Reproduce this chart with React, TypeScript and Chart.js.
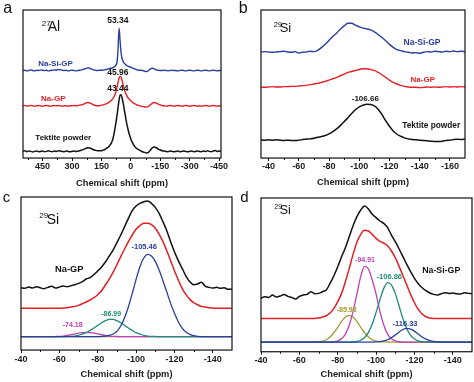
import React, { useEffect, useRef } from "react";
import { Chart, registerables } from "chart.js";

Chart.register(...registerables);

const FONT = '"Liberation Sans", Arial, Helvetica, sans-serif';
const NAVY = "#283f9b";
const RED = "#e41f26";
const TEAL = "#1f8a78";
const MAGENTA = "#bf3fb8";
const OLIVE = "#a09a2c";
const BLACK = "#111111";

// ---------- Panel a : 27Al ----------
const A_PPM = [550,540,530,520,510,500,490,480,470,460,
  450,440,430,420,410,400,390,380,370,360,
  350,340,330,320,310,300,290,280,270,260,
  250,240,230,220,210,200,190,180,170,160,
  150,145,140,135,130,125,120,115,110,105,
  100,95,90,85,80,75,70,65,60,55,
  50,45,40,35,30,25,20,15,10,5,
  0,-5,-10,-15,-20,-25,-30,-35,-40,
  -50,-60,-70,-80,-90,-100,-110,-120,-130,-140,
  -150,-160,-170,-180,-190,-200,-210,-220,-230,-240,
  -250,-260,-270,-280,-290,-300,-310,-320,-330,-340,
  -350,-360,-370,-380,-390,-400,-410,-420,-430,-440,
  -450,-460];
const A_NASIGP = [263,264,262,263,265,263,262,264,263,265,
  264,263,264,262,263,264,265,264,266,265,
  264,263,264,262,263,264,263,262,263,264,
  265,267,269,271,270,267,265,264,263,264,
  264,264,265,265,266,266,267,268,269,270,
  270,271,272,274,276,280,290,330,390,355,
  318,300,291,286,283,280,278,276,275,274,
  273,272,270,269,268,267,266,265,264,
  264,263,261,260,263,268,270,268,265,264,
  263,263,264,263,262,263,264,263,263,262,
  263,264,263,262,263,264,263,262,263,264,
  263,262,263,264,263,262,263,264,263,262,
  263,263];
const A_NAGP = [157,158,156,157,158,157,156,157,158,157,
  156,157,158,157,156,157,158,157,158,157,
  156,157,157,156,157,157,158,157,158,159,
  160,162,165,167,166,163,160,158,157,157,
  159,159,160,161,162,163,165,166,168,170,
  173,176,180,185,192,202,214,228,240,245,
  244,234,222,211,201,193,187,182,178,175,
  172,169,167,165,163,162,160,159,158,
  156,155,154,153,155,160,165,167,165,162,
  160,158,157,156,157,158,157,156,157,158,
  157,156,157,158,157,156,157,158,157,156,
  157,156,157,158,157,156,157,158,157,156,
  157,156];
const A_TEKTITE = [20,22,19,21,20,18,20,21,19,20,
  21,19,20,22,20,19,21,20,22,21,
  20,19,21,20,19,20,21,20,21,22,
  24,26,29,31,30,28,25,23,22,22,
  22,23,24,25,27,29,31,33,36,40,
  44,51,61,75,92,110,130,153,174,189,
  190,182,168,152,134,117,101,88,76,66,
  57,50,44,39,35,31,29,27,25,
  22,19,17,15,17,24,31,33,31,27,
  24,22,21,20,19,21,20,19,20,21,
  19,20,21,20,19,20,21,19,20,21,
  20,19,21,20,22,20,19,21,23,20,
  21,20];
const A_TICKS = [450, 300, 150, 0, -150, -300, -450];
const A_MINOR = [525, 375, 225, 75, -75, -225, -375];

// ---------- Panel b : 29Si ----------
const B_PPM = [-35,-37.5,-40,-42.5,-45,-47.5,-50,-52.5,-55,-57.5,
  -60,-62.5,-65,-67.5,-70,-72.5,-75,-77.5,-80,-82.5,
  -85,-87.5,-90,-92.5,-95,-97.5,-100,-102.5,-105,-107.5,
  -110,-112.5,-115,-117.5,-120,-122.5,-125,-127.5,-130,-132.5,
  -135,-137.5,-140,-142.5,-145,-147.5,-150,-152.5,-155,-157.5,
  -160,-162.5,-165,-167.5,-170];
const B_NASIGP = [321,322,321,320,321,322,323,321,320,322,
  318,320,321,323,322,326,334,344,356,368,
  378,390,400,408,408,402,397,393,391,388,
  382,374,365,355,344,335,328,325,322,320,
  318,319,317,320,322,321,323,322,321,323,
  322,324,322,323,322];
const B_NAGP = [215,214,215,216,215,215,216,216,217,217,
  218,219,220,222,224,226,229,232,236,240,
  244,249,254,259,262,265,268,270,270,268,
  265,259,252,244,236,229,224,220,217,215,
  214,214,213,214,215,214,215,214,215,216,
  215,216,215,216,215];
const B_TEKTITE = [55,54,55,54,55,54,53,54,53,53,
  54,56,57,58,60,63,65,68,73,80,
  88,98,110,122,135,146,155,160,163,162,
  158,148,132,113,96,82,72,66,61,58,
  56,55,54,53,52,51,50,50,51,53,
  54,56,57,56,57];
const B_TICKS = [-40, -60, -80, -100, -120, -140, -160];
const B_MINOR = [-50, -70, -90, -110, -130, -150];

// ---------- Panels c, d : 29Si deconvolution ----------
const FIT_PPM = [-40,-42,-44,-46,-48,-50,-52,-54,-56,-58,
  -60,-62,-64,-66,-68,-70,-72,-74,-76,-78,
  -80,-82,-84,-86,-88,-90,-92,-94,-96,-98,
  -100,-102,-104,-106,-108,-110,-112,-114,-116,-118,
  -120,-122,-124,-126,-128,-130,-132,-134,-136,-138,
  -140,-142,-144,-146,-148,-150];
const FIT_TICKS = [-40, -60, -80, -100, -120, -140];
const FIT_MINOR = [-50, -70, -90, -110, -130];

const C_EXP = [187,185,189,186,190,187,184,188,191,186,
  189,192,190,193,196,200,205,213,217,226,
  237,249,264,282,300,322,345,370,395,418,
  432,440,445,447,440,428,410,385,358,325,
  295,268,245,222,205,196,198,203,192,188,
  186,188,185,187,182,183];
const C_FIT = [125,125,125,125,125,125,125,125,125,125,
  125,126,127,129,131,134,139,144,150,157,
  166,178,195,213,233,256,280,303,325,345,
  362,373,380,380,376,365,348,325,298,268,
  238,210,185,166,152,142,136,131,129,127,
  126,125,125,125,125,125];
const C_Q4 = [40,40,40,40,40,40,40,40,40,40,
  40,40,40,40,40,40,40,40,40,40,
  40,41,42,44,48,56,72,97,130,170,
  212,250,276,287,282,266,240,208,174,140,
  110,85,66,54,47,43,41,40,40,40,
  40,40,40,40,40,40];
const C_Q3 = [40,40,40,40,40,40,40,40,40,40,
  40,40,41,41,42,44,48,52,59,66,
  74,82,88,92,92,88,82,74,66,59,
  52,48,44,42,41,41,40,40,40,40,
  40,40,40,40,40,40,40,40,40,40,
  40,40,40,40,40,40];
const C_Q2 = [40,40,40,40,40,40,40,40,40,40.5,
  41,42,44,46,48,50.5,52,53,52.5,51,
  48.6,46,44,42,41,40.6,40,40,40,40,
  40,40,40,40,40,40,40,40,40,40,
  40,40,40,40,40,40,40,40,40,40,
  40,40,40,40,40,40];
const C_Q1 = [40,40,40,40,40,40,40,40,40,40,
  40,40,40,40,40,40,40,40,40,40,
  40,40,40,40,40,40,40,40,40,40,
  40,40,40,40,40,40,40,40,40,40,
  40,40,40,40,40,40,40,40,40,40,
  40,40,40,40,40,40];

const D_EXP = [160,165,163,170,164,167,172,166,163,158,
  166,170,172,180,174,175,180,185,205,228,
  255,285,312,345,378,405,425,437,428,412,
  402,392,385,372,350,330,308,285,262,240,
  220,204,192,183,176,172,170,174,177,175,
  176,174,173,177,175,174];
const D_FIT = [100,100,100,100,100,100,100,100,100,100,
  100,100,100,100,100,101,104,108,116,130,
  150,175,210,250,292,328,352,364,362,352,
  340,331,326,318,302,282,256,228,200,172,
  147,127,113,105,101,100,100,100,100,100,
  100,100,100,100,100,100];
const D_Q1 = [29,29,29,29,29,29,29,29,29,29,
  29,29,29,29,29.4,30,32,36,44,57,
  73,91,104,109,104,91,73,57,44,36,
  32,30,29.4,29,29,29,29,29,29,29,
  29,29,29,29,29,29,29,29,29,29,
  29,29,29,29,29,29];
const D_Q2 = [29,29,29,29,29,29,29,29,29,29,
  29,29,29,29,29,29,29,29,29,30,
  32.5,39,53,80,121,173,226,256,248,215,
  173,121,80,53,39,32.5,30,29,29,29,
  29,29,29,29,29,29,29,29,29,29,
  29,29,29,29,29,29];
const D_Q3 = [29,29,29,29,29,29,29,29,29,29,
  29,29,29,29,29,29,29,29,29,29,
  29,29,29,29,29.5,31,34.5,42.5,58,83,
  118,156,190,207,200,175,137,99,69,49,
  38,32.4,30,29.4,29,29,29,29,29,29,
  29,29,29,29,29,29];
const D_Q4 = [29,29,29,29,29,29,29,29,29,29,
  29,29,29,29,29,29,29,29,29,29,
  29,29,29,29,29,29,29,29,29,29,
  29.6,30.4,32.4,36,42,50,59,66.6,70,68,
  61.8,53,44.4,37.6,33.3,30.8,29.7,29,29,29,
  29,29,29,29,29,29];

// ---------- types ----------
type TextItem = {
  kind: "text"; text: string; x: number; y: number; color: string; size: number;
  bold?: boolean; align?: CanvasTextAlign; baseline?: CanvasTextBaseline;
};
type SupItem = {
  kind: "sup"; sup: string; base: string; sx: number; sy: number; bx: number; by: number;
  size: number; supSize: number;
};
interface Series { values: number[]; color: string; width: number }
interface PanelSpec {
  left: number; top: number; x: number[]; series: Series[];
  xMin: number; xMax: number; yMax: number; ticks: number[]; minor: number[];
  pad: { left: number; right: number; top: number; bottom: number };
  tickPad: number; titlePad: number; texts: (TextItem | SupItem)[];
}

const W = 237;
const H = 191;

function makeOverlay(p: PanelSpec) {
  return {
    id: "overlay",
    afterDraw(chart: any) {
      const { ctx, chartArea: ca } = chart;
      const xs = chart.scales.x;
      ctx.save();
      ctx.strokeStyle = BLACK;
      ctx.lineWidth = 1;
      for (const v of p.minor) {
        const px = Math.round(xs.getPixelForValue(v)) + 0.5;
        ctx.beginPath();
        ctx.moveTo(px, ca.bottom);
        ctx.lineTo(px, ca.bottom + 2);
        ctx.stroke();
      }
      ctx.lineWidth = 1.2;
      ctx.strokeRect(ca.left, ca.top, ca.right - ca.left, ca.bottom - ca.top);
      for (const it of p.texts) {
        if (it.kind === "text") {
          ctx.font = `${it.bold ? "bold " : ""}${it.size}px ${FONT}`;
          ctx.fillStyle = it.color;
          ctx.textAlign = it.align || "center";
          ctx.textBaseline = it.baseline || "middle";
          ctx.fillText(it.text, it.x, it.y);
        } else {
          ctx.fillStyle = BLACK;
          ctx.textAlign = "left";
          ctx.textBaseline = "alphabetic";
          ctx.font = `${it.supSize}px ${FONT}`;
          ctx.fillText(it.sup, it.sx, it.sy);
          ctx.font = `${it.size}px ${FONT}`;
          ctx.fillText(it.base, it.bx, it.by);
        }
      }
      ctx.restore();
    },
  };
}

function buildConfig(p: PanelSpec): any {
  return {
    type: "line",
    data: {
      datasets: p.series.map((s) => ({
        data: p.x.map((xv, i) => ({ x: xv, y: s.values[i] })),
        borderColor: s.color,
        borderWidth: s.width,
        pointRadius: 0,
        pointHoverRadius: 0,
        cubicInterpolationMode: "monotone",
        fill: false,
      })),
    },
    options: {
      animation: false,
      responsive: false,
      maintainAspectRatio: false,
      events: [],
      layout: { padding: p.pad },
      plugins: { legend: { display: false }, tooltip: { enabled: false } },
      scales: {
        x: {
          type: "linear",
          reverse: true,
          min: p.xMin,
          max: p.xMax,
          afterBuildTicks: (scale: any) => {
            scale.ticks = p.ticks.map((v) => ({ value: v }));
          },
          ticks: {
            autoSkip: false,
            maxRotation: 0,
            minRotation: 0,
            padding: p.tickPad,
            color: "#1a1a1a",
            font: { family: FONT, size: 9, weight: "bold" },
            callback: (v: any) => String(v),
          },
          grid: {
            display: true,
            drawOnChartArea: false,
            drawTicks: true,
            tickLength: 3,
            tickColor: BLACK,
            tickWidth: 1,
          },
          border: { display: false },
          title: {
            display: true,
            text: "Chemical shift (ppm)",
            color: "#1a1a1a",
            font: { family: FONT, size: 9.3, weight: "bold" },
            padding: { top: p.titlePad, bottom: 0 },
          },
        },
        y: { display: false, min: 0, max: p.yMax },
      },
    },
    plugins: [makeOverlay(p)],
  };
}

const PANELS: PanelSpec[] = [
  {
    left: 0, top: 0, x: A_PPM, xMin: -460, xMax: 550, yMax: 445,
    ticks: A_TICKS, minor: A_MINOR,
    pad: { left: 23, right: 16, top: 10, bottom: 2.4 }, tickPad: 0, titlePad: 5.6,
    series: [
      { values: A_NASIGP, color: NAVY, width: 1.4 },
      { values: A_NAGP, color: RED, width: 1.4 },
      { values: A_TEKTITE, color: BLACK, width: 1.5 },
    ],
    texts: [
      { kind: "text", text: "a", x: 3.3, y: 13.3, size: 16, color: BLACK, align: "left", baseline: "alphabetic" },
      { kind: "sup", sup: "27", base: "Al", sx: 41.7, sy: 25.5, bx: 47.7, by: 30.7, size: 14, supSize: 8 },
      { kind: "text", text: "53.34", x: 117.8, y: 20.5, size: 8.5, bold: true, color: BLACK },
      { kind: "text", text: "45.96", x: 117.8, y: 72.2, size: 8.5, bold: true, color: BLACK },
      { kind: "text", text: "43.44", x: 117.8, y: 89, size: 8.5, bold: true, color: BLACK },
      { kind: "text", text: "Na-Si-GP", x: 55.5, y: 63.3, size: 8, bold: true, color: NAVY },
      { kind: "text", text: "Na-GP", x: 53.3, y: 98.3, size: 8, bold: true, color: RED },
      { kind: "text", text: "Tektite powder", x: 63.3, y: 137.8, size: 8, bold: true, color: BLACK },
    ],
  },
  {
    left: 237, top: 0, x: B_PPM, xMin: -170, xMax: -35, yMax: 448,
    ticks: B_TICKS, minor: B_MINOR,
    pad: { left: 24, right: 9, top: 10, bottom: 2.9 }, tickPad: 0, titlePad: 5.1,
    series: [
      { values: B_NASIGP, color: NAVY, width: 1.4 },
      { values: B_NAGP, color: RED, width: 1.4 },
      { values: B_TEKTITE, color: BLACK, width: 1.5 },
    ],
    texts: [
      { kind: "text", text: "b", x: 1.7, y: 13.3, size: 16, color: BLACK, align: "left", baseline: "alphabetic" },
      { kind: "sup", sup: "29", base: "Si", sx: 36.7, sy: 26.7, bx: 42.7, by: 31.7, size: 13, supSize: 7.5 },
      { kind: "text", text: "-106.66", x: 128.3, y: 99.2, size: 8, bold: true, color: BLACK },
      { kind: "text", text: "Na-Si-GP", x: 185, y: 42.5, size: 8.5, bold: true, color: NAVY },
      { kind: "text", text: "Na-GP", x: 185.8, y: 80, size: 8, bold: true, color: RED },
      { kind: "text", text: "Tektite powder", x: 194.2, y: 126.2, size: 8.3, bold: true, color: BLACK },
    ],
  },
  {
    left: 0, top: 191, x: FIT_PPM, xMin: -150, xMax: -40, yMax: 459,
    ticks: FIT_TICKS, minor: FIT_MINOR,
    pad: { left: 21, right: 5, top: 6, bottom: 2.2 }, tickPad: 1.5, titlePad: 1.8,
    series: [
      { values: C_EXP, color: BLACK, width: 1.5 },
      { values: C_FIT, color: RED, width: 1.5 },
      { values: C_Q4, color: NAVY, width: 1.3 },
      { values: C_Q3, color: TEAL, width: 1.3 },
      { values: C_Q2, color: MAGENTA, width: 1.3 },
      { values: C_Q1, color: OLIVE, width: 1.3 },
    ],
    texts: [
      { kind: "text", text: "c", x: 2.7, y: 10.7, size: 15, color: BLACK, align: "left", baseline: "alphabetic" },
      { kind: "sup", sup: "29", base: "Si", sx: 39.3, sy: 27.3, bx: 46.7, by: 32.7, size: 14, supSize: 8 },
      { kind: "text", text: "Na-GP", x: 69.2, y: 78.5, size: 9.3, bold: true, color: BLACK },
      { kind: "text", text: "-105.46", x: 144.2, y: 56, size: 7.5, bold: true, color: NAVY },
      { kind: "text", text: "-86.99", x: 111.2, y: 123.3, size: 7, bold: true, color: TEAL },
      { kind: "text", text: "-74.18", x: 72.7, y: 133.8, size: 7, bold: true, color: MAGENTA },
    ],
  },
  {
    left: 237, top: 191, x: FIT_PPM, xMin: -150, xMax: -40, yMax: 461,
    ticks: FIT_TICKS, minor: FIT_MINOR,
    pad: { left: 24, right: 2, top: 7, bottom: 1.7 }, tickPad: 0, titlePad: 3.6,
    series: [
      { values: D_EXP, color: BLACK, width: 1.5 },
      { values: D_FIT, color: RED, width: 1.5 },
      { values: D_Q4, color: NAVY, width: 1.3 },
      { values: D_Q3, color: TEAL, width: 1.3 },
      { values: D_Q2, color: MAGENTA, width: 1.3 },
      { values: D_Q1, color: OLIVE, width: 1.3 },
    ],
    texts: [
      { kind: "text", text: "d", x: 3.3, y: 11.3, size: 15, color: BLACK, align: "left", baseline: "alphabetic" },
      { kind: "sup", sup: "29", base: "Si", sx: 37.3, sy: 18.3, bx: 42.7, by: 22.7, size: 12.5, supSize: 7 },
      { kind: "text", text: "-94.91", x: 128, y: 69, size: 7, bold: true, color: MAGENTA },
      { kind: "text", text: "-106.86", x: 152.3, y: 85.7, size: 7.5, bold: true, color: TEAL },
      { kind: "text", text: "Na-Si-GP", x: 204.2, y: 80, size: 8.8, bold: true, color: BLACK },
      { kind: "text", text: "-85.98", x: 109.7, y: 119, size: 7, bold: true, color: OLIVE },
      { kind: "text", text: "-116.33", x: 168, y: 133, size: 7.5, bold: true, color: NAVY },
    ],
  },
];

function Panel({ spec }: { spec: PanelSpec }) {
  const ref = useRef<HTMLCanvasElement>(null);
  useEffect(() => {
    const chart = new Chart(ref.current as HTMLCanvasElement, buildConfig(spec));
    return () => chart.destroy();
  }, [spec]);
  return (
    <canvas
      ref={ref}
      width={W}
      height={H}
      style={{ position: "absolute", left: spec.left, top: spec.top, width: W, height: H }}
    />
  );
}

export default function App() {
  return (
    <div style={{ position: "fixed", left: 0, top: 0, width: 474, height: 382, background: "#fff", overflow: "hidden" }}>
      {PANELS.map((p, i) => (
        <Panel key={i} spec={p} />
      ))}
    </div>
  );
}
